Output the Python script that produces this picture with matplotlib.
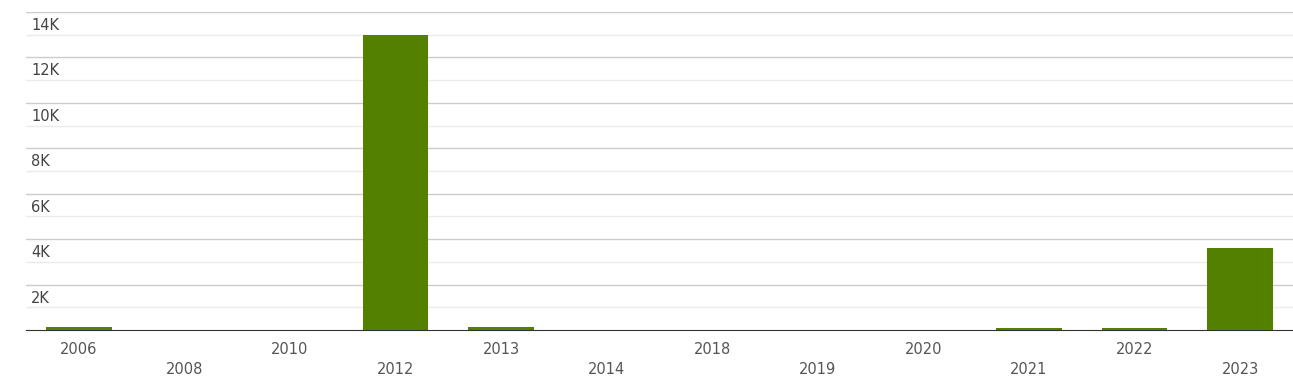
import matplotlib.pyplot as plt
from matplotlib.transforms import offset_copy

# Values per year
years = ['2006', '2008', '2010', '2012', '2013', '2014', '2018', '2019', '2020', '2021', '2022', '2023']
values = [130, 0, 0, 13000, 130, 0, 0, 0, 0, 90, 90, 3600]

major_ticks = [2000, 4000, 6000, 8000, 10000, 12000, 14000]
major_labels = ['2K', '4K', '6K', '8K', '10K', '12K', '14K']
minor_ticks = [1000, 3000, 5000, 7000, 9000, 11000, 13000]

fig = plt.figure(figsize=(12.93, 3.84), dpi=100)
ax = fig.add_axes([26 / 1293, 54 / 384, 1 - 26 / 1293, 318 / 384])

x = list(range(len(years)))
ax.bar(x, values, width=0.62, color='#548000', zorder=3)

ax.set_xlim(-0.5, len(years) - 0.5)
ax.set_ylim(0, 14000)

# grid lines, darker on the even thousands
ax.set_yticks(major_ticks)
ax.set_yticks(minor_ticks, minor=True)
ax.yaxis.grid(True, which='major', color='#cccccc', linewidth=1)
ax.yaxis.grid(True, which='minor', color='#ebebeb', linewidth=1)
ax.tick_params(axis='y', which='both', length=0, labelleft=False)

# y labels sit inside the plot, just under their line
lab_tr = offset_copy(ax.get_yaxis_transform(), fig=fig, x=5, y=-6, units='dots')
for val, lab in zip(major_ticks, major_labels):
    ax.text(0, val, lab, transform=lab_tr, ha='left', va='top',
            fontsize=10.5, color='#444444')

# x labels staggered on two rows
ax.set_xticks(x)
ax.set_xticklabels(years, fontsize=10.5, color='#555555')
ax.tick_params(axis='x', length=0)
for i, tick in enumerate(ax.xaxis.get_major_ticks()):
    tick.set_pad(8.3 if i % 2 == 0 else 22.8)

for side in ['top', 'right', 'left']:
    ax.spines[side].set_visible(False)
ax.spines['bottom'].set_color('#333333')
ax.spines['bottom'].set_zorder(4)

plt.savefig('out.png', dpi=100)
